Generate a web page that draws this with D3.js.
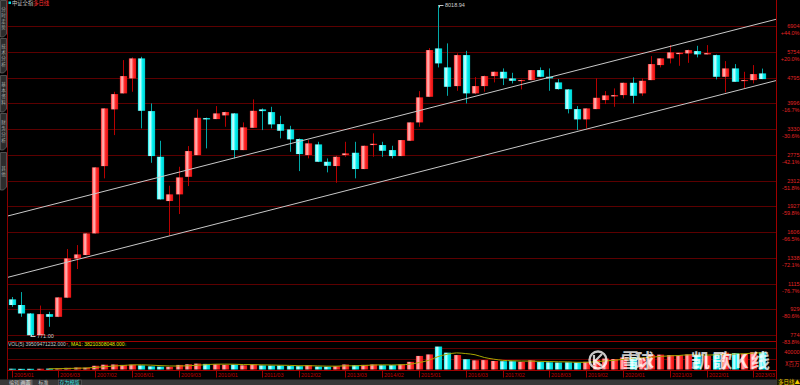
<!DOCTYPE html>
<html>
<head>
<meta charset="utf-8">
<script src="https://cdn.jsdelivr.net/npm/d3@7"></script>
<style>
html,body{margin:0;padding:0;background:#000;}
svg{display:block;}
text{font-family:"Liberation Sans",Arial,sans-serif;}
.cjk{font-family:"Noto Sans CJK SC",sans-serif;}
</style>
</head>
<body>
<div id="chart"></div>
<script>
// multi-day candles, CSI All Share
var opens  = [998,959,903,775,899,882,1010,1334,1366,1592,2564,3831,4291,4771,5497,3785,2739,2002,2099,2377,
              2772,3602,3577,3672,3724,2872,3363,3831,3758,3452,3325,3105,2772,2990,2644,2565,2772,2818,2511,2976,
              2976,2872,2753,3068,3494,4189,5900,5158,4518,5627,4291,4518,4850,5000,4771,4681,4714,5060,4826,4638,
              4414,3839,3569,3839,4092,4200,4239,4625,4291,4714,5243,5497,5667,5695,5789,5655,5627,4826,5121,4681,
              4714,4943];
var closes = [959,903,774,899,882,1012,1334,1372,1592,2541,3858,4269,4850,5497,3793,2753,2026,2099,2367,2852,
              3610,3569,3724,3759,2872,3373,3793,3785,3445,3293,3098,2792,3012,2644,2570,2739,2806,2511,2961,3003,
              2858,2753,3083,3494,4171,5830,5306,4496,5627,4291,4518,4850,5000,4771,4691,4714,5060,4826,4771,4423,
              3839,3569,3858,4159,4230,4239,4625,4218,4691,5280,5497,5736,5719,5830,5655,5708,4826,5121,4658,4714,
              4919,4748];
var highs  = [1015,1051,906,955,914,1015,1425,1466,1596,2545,3866,4340,5431,5536,5560,3997,3068,2231,2552,2955,
              3831,3615,3922,3769,3732,3494,4112,3858,3902,3661,3411,3116,3083,3046,2708,2759,3046,3046,2965,3233,
              3046,2961,3085,3500,4361,5913,8018.94,6113,5695,5801,4815,4867,5007,5121,4964,4731,5063,5158,5121,4748,
              4423,3922,3866,4771,4361,4445,4632,4805,4771,5587,5509,6040,5727,5850,6010,6040,5647,5393,5280,5000,
              5243,5114];
var lows   = [947,882,771,772,822,880,1007,1237,1364,1590,2351,3194,4284,4340,3349,2625,2023,1566,1826,2226,
              2772,2907,3575,3387,2708,2870,3361,3309,3349,3120,2838,2475,2708,2638,2453,2279,2739,2351,2509,2739,
              2739,2708,2751,3061,3387,4180,5158,4218,4370,3997,4269,4340,4638,4550,4605,4414,4712,4815,4370,4408,
              3724,3309,3349,3837,3978,3902,4141,3997,4218,4712,5158,5306,5217,5328,5536,5646,4738,4321,4656,4445,
              4605,4746];
// volume, millions of lots
var vols = [1800,1500,1600,1700,2000,2500,3800,4500,4200,8500,11000,11500,10500,11000,9500,7200,6500,6200,10500,12000,
            13500,12800,12000,10800,11200,9600,11800,9500,9000,9200,7800,7600,9800,6800,6400,7500,11500,9800,10600,11500,
            9800,10000,11800,17500,31000,34500,52500,38500,33000,23500,21000,21500,19500,19000,19000,17500,21000,17000,16500,16000,
            16500,16000,17500,22500,25000,24000,27500,28000,27000,33500,34000,33000,32500,34500,33000,31500,36000,38500,37500,36000,
            39500,39509.471232];

var dateIdx  = [0,5,9,13,18,22,27,31,36,40,44,49,53,58,62,66,71,75,80];
var dateText = ['2005/01','2006/03','2007/02','2008/01','2009/03','2010/01','2011/03','2012/02','2013/03','2014/02',
                '2015/01','2016/03','2017/02','2018/03','2019/02','2020/01','2021/03','2022/01','2023/03'];

var tickText = ['6904','5754','4795','3996','3330','2775','2312','1927','1606','1338','1115','929','774'];
var pctText  = ['+44.0%','+20.0%','','-16.7%','-30.6%','-42.1%','-51.8%','-59.8%','-66.5%','-72.1%','-76.7%','-80.6%','-83.8%'];

// channel lines: value at first and last candle
var chanUp = [1814, 7073];
var chanDn = [1175, 4583];

var volText = '39509471232.000', maText = '38210308048.000';

var sideTabs = ['分时走势','技术分析','基本资料','财务分析','其他'];

var W = 800, H = 385;
var L = 7.5, R = 776.5, mainBottom = 341.5, axisY = 370.5, barY = 379.5;

var svg = d3.select('#chart').append('svg').attr('width', W).attr('height', H);
svg.append('rect').attr('width', W).attr('height', H).attr('fill', '#000');

var n = opens.length;
var x = d3.scaleBand().domain(d3.range(n)).range([7.07, 766.97]).paddingInner(0.22).paddingOuter(0.11);
var cx = function(i){ return x(i) + x.bandwidth()/2; };
var y = d3.scaleLog().domain([774.4, 6904.8]).range([335.2, 26.2]);
var yv = d3.scaleLinear().domain([0, 40000]).range([369.5, 352]);

var defs = svg.append('defs');
function grad(id, edge, mid, dark){
  var g = defs.append('linearGradient').attr('id', id).attr('x1', 0).attr('x2', 1).attr('y1', 0).attr('y2', 0);
  g.append('stop').attr('offset', '0%').attr('stop-color', edge);
  g.append('stop').attr('offset', '30%').attr('stop-color', mid);
  g.append('stop').attr('offset', '65%').attr('stop-color', edge);
  g.append('stop').attr('offset', '100%').attr('stop-color', dark);
}
grad('up', '#ff2626', '#ffc4c4', '#e01010');
grad('down', '#00f0f0', '#e0ffff', '#00cccc');
defs.append('clipPath').attr('id', 'mainclip').append('rect')
  .attr('x', L).attr('y', 0).attr('width', R - L).attr('height', mainBottom);

// grid + right axis
var ticks = svg.append('g');
tickText.forEach(function(t, k){
  var ty = Math.round(y(+t)) + 0.5;
  ticks.append('line').attr('x1', L).attr('x2', R).attr('y1', ty).attr('y2', ty)
    .attr('stroke', '#5c0000').attr('stroke-width', 1);
  ticks.append('text').attr('x', 799.5).attr('y', ty).attr('dy', '0.35em')
    .attr('text-anchor', 'end').attr('fill', '#e02424').style('font-size', '5.5px').text(t);
  if (pctText[k]) {
    ticks.append('text').attr('x', 799.5).attr('y', ty + 7).attr('dy', '0.35em')
      .attr('text-anchor', 'end').attr('fill', '#e02424').style('font-size', '5.5px').text(pctText[k]);
  }
});

// volume grid
[25000, 50000].forEach(function(v){
  var vy = Math.round(yv(v)) + 0.5;
  svg.append('line').attr('x1', L).attr('x2', R).attr('y1', vy).attr('y2', vy)
    .attr('stroke', '#5c0000');
});

// candles
var plot = svg.append('g').attr('clip-path', 'url(#mainclip)');
var bw = x.bandwidth();
d3.range(n).forEach(function(i){
  var up = closes[i] >= opens[i];
  var xc = Math.round(cx(i)) + 0.5;
  plot.append('line').attr('x1', xc).attr('x2', xc)
    .attr('y1', y(highs[i])).attr('y2', y(lows[i]))
    .attr('stroke', up ? '#b80000' : '#00a8a8').attr('stroke-width', 1);
  var top = y(Math.max(opens[i], closes[i])), bot = y(Math.min(opens[i], closes[i]));
  plot.append('rect').attr('x', xc - bw/2).attr('width', bw)
    .attr('y', top).attr('height', Math.max(1, bot - top))
    .attr('fill', up ? 'url(#up)' : 'url(#down)');
});

// channel
var step = x.step();
function chan(pair){
  var b = Math.log(pair[1] / pair[0]) / (n - 1);
  var i0 = (L - cx(0)) / step, i1 = (R - cx(0)) / step;
  return [[L, y(pair[0] * Math.exp(b * i0))], [R, y(pair[0] * Math.exp(b * i1))]];
}
[chanUp, chanDn].forEach(function(c){
  plot.append('path').attr('d', d3.line()(chan(c)))
    .attr('stroke', '#c8c8c8').attr('stroke-width', 1).attr('fill', 'none');
});

// max / min marks
var iMax = d3.maxIndex(highs), iMin = d3.minIndex(lows);
[[iMax, highs[iMax]], [iMin, lows[iMin]]].forEach(function(p){
  var px = Math.round(cx(p[0])) + 0.5, py = Math.round(y(p[1])) + 0.5;
  svg.append('line').attr('x1', px).attr('x2', px + 5).attr('y1', py).attr('y2', py)
    .attr('stroke', '#c8c8c8');
  svg.append('line').attr('x1', px + 1).attr('x2', px + 1).attr('y1', py).attr('y2', py + (p[0] === iMax ? 2 : -2))
    .attr('stroke', '#c8c8c8');
  svg.append('text').attr('x', px + 6.5).attr('y', py).attr('dy', '0.35em')
    .attr('fill', '#d0d0d0').style('font-size', '5.5px').text(p[1].toFixed(2));
});

// volume bars
d3.range(n).forEach(function(i){
  var up = closes[i] >= opens[i];
  var xc = Math.round(cx(i)) + 0.5;
  svg.append('rect').attr('x', xc - bw/2).attr('width', bw)
    .attr('y', yv(vols[i])).attr('height', Math.max(1, yv(0) - yv(vols[i])))
    .attr('fill', up ? 'url(#up)' : 'url(#down)');
});
var ma = d3.range(4, n).map(function(i){
  return [cx(i), yv(d3.mean(vols.slice(i - 4, i + 1)))];
});
svg.append('path').attr('d', d3.line().curve(d3.curveMonotoneX)(ma))
  .attr('fill', 'none').attr('stroke', '#a8a800').attr('stroke-width', 1);

var vt = svg.append('text').attr('x', 8).attr('y', 346).style('font-size', '5px');
vt.append('tspan').attr('fill', '#c8c8c8').text('VOL(5) ' + volText);
vt.append('tspan').attr('fill', '#ff3030').text('↑');
vt.append('tspan').attr('fill', '#c8c8c8').text(', ');
vt.append('tspan').attr('fill', '#e8e800').text('MA1: ' + maText);
vt.append('tspan').attr('fill', '#00d000').text('↓');

svg.append('text').attr('x', 799.5).attr('y', yv(40000)).attr('dy', '0.35em').attr('text-anchor', 'end')
  .attr('fill', '#e02424').style('font-size', '5.5px').text('40000');
svg.append('text').attr('class', 'cjk').attr('x', 799.5).attr('y', 364).attr('dy', '0.35em').attr('text-anchor', 'end')
  .attr('fill', '#e02424').style('font-size', '5.5px').text('X百万');

// frame lines
svg.append('line').attr('x1', L).attr('x2', L).attr('y1', 0).attr('y2', barY).attr('stroke', '#8a0000');
svg.append('line').attr('x1', R).attr('x2', R).attr('y1', 0).attr('y2', barY).attr('stroke', '#a00000');
svg.append('line').attr('x1', L).attr('x2', R).attr('y1', mainBottom).attr('y2', mainBottom).attr('stroke', '#a00000');
svg.append('line').attr('x1', L).attr('x2', R).attr('y1', axisY).attr('y2', axisY).attr('stroke', '#a00000');

// date axis
dateIdx.forEach(function(di, k){
  var dx = Math.round(cx(di)) + 0.5;
  svg.append('line').attr('x1', dx).attr('x2', dx).attr('y1', axisY).attr('y2', axisY + 7).attr('stroke', '#a00000');
  svg.append('text').attr('x', dx + 1.5).attr('y', axisY + 6.5).attr('fill', '#c00000')
    .style('font-size', '5.5px').text(dateText[k]);
});

// bottom toolbar
svg.append('rect').attr('x', 0).attr('y', barY).attr('width', W).attr('height', H - barY).attr('fill', '#383838');
var tb = [['编辑', 9, '#cfcfcf', null], ['画面', 20.5, '#e8e8e8', '#5e5e5e'], ['标准', 38.5, '#cfcfcf', null], ['存为模版', 59.5, '#40e0e0', '#262626']];
tb.forEach(function(b){
  if (b[3]) svg.append('rect').attr('x', b[1] - 1).attr('y', barY + 0.5).attr('width', b[0].length * 5.3 + 2).attr('height', 5)
    .attr('fill', b[3]).attr('stroke', '#707070').attr('stroke-width', 0.5);
  svg.append('text').attr('class', 'cjk').attr('x', b[1]).attr('y', barY + 4.8).attr('fill', b[2])
    .style('font-size', '5px').text(b[0]);
});
svg.append('rect').attr('x', 777).attr('y', barY).attr('width', 23).attr('height', H - barY).attr('fill', '#1a1a00');
svg.append('text').attr('class', 'cjk').attr('x', 778).attr('y', barY + 4.8).attr('fill', '#f0c800')
  .style('font-size', '5.5px').text('多日线▲');

// title
svg.append('rect').attr('x', 8.5).attr('y', 1.5).attr('width', 2.5).attr('height', 2.5).attr('fill', '#00e0e0');
var tt = svg.append('text').attr('class', 'cjk').attr('x', 12).attr('y', 5).style('font-size', '5.3px');
tt.append('tspan').attr('fill', '#cfcfcf').text('中证全指');
tt.append('tspan').attr('fill', '#ff3030').text('多日线');

// side tabs
var tabY = [[0, 37], [38, 73], [75, 112], [113, 150], [152, 190]];
sideTabs.forEach(function(s, k){
  var t0 = tabY[k][0], t1 = tabY[k][1];
  svg.append('path').attr('d', 'M0.5,' + (t0 + 0.5) + 'H6.5V' + (t1 - 3) + 'L3.5,' + t1 + 'H0.5Z')
    .attr('fill', '#2c2c2c').attr('stroke', '#777').attr('stroke-width', 0.6);
  var mid = (t0 + t1) / 2 - (s.length - 1) * 3;
  s.split('').forEach(function(ch, j){
    svg.append('text').attr('class', 'cjk').attr('x', 3.5).attr('y', mid + j * 6).attr('dy', '0.35em')
      .attr('text-anchor', 'middle').attr('fill', '#a8a8a8').style('font-size', '4.5px').text(ch);
  });
});

// watermark
var wm = svg.append('g').attr('opacity', 0.78);
wm.append('circle').attr('cx', 598).attr('cy', 360).attr('r', 8.5).attr('fill', 'none')
  .attr('stroke', '#fff').attr('stroke-width', 2.4);
wm.append('path').attr('d', 'M594,355 L594,365 M602,354 L595,361 L602,366').attr('fill', 'none')
  .attr('stroke', '#fff').attr('stroke-width', 2.2);
wm.append('text').attr('class', 'cjk').attr('x', 621).attr('y', 368).attr('fill', '#fff')
  .attr('textLength', 33).style('font-size', '19px').style('font-weight', 'bold').text('雪球');
wm.append('text').attr('class', 'cjk').attr('x', 691).attr('y', 368).attr('fill', '#fff')
  .attr('textLength', 79).style('font-size', '19px').style('font-weight', 'bold').text('凯歌K线');
</script>
</body>
</html>
